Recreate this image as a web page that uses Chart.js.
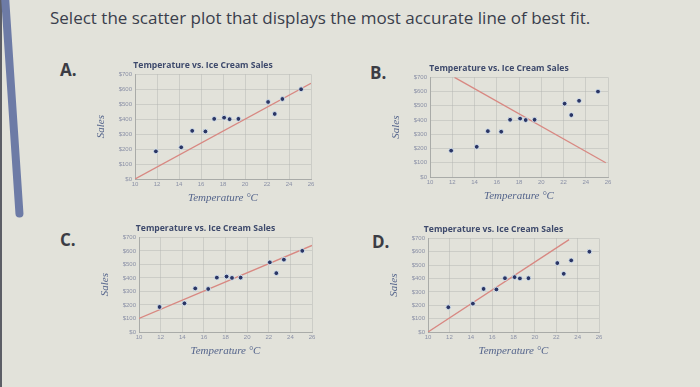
<!DOCTYPE html>
<html>
<head>
<meta charset="utf-8">
<script src="https://cdn.jsdelivr.net/npm/chart.js@4.4.1/dist/chart.umd.min.js"></script>
<style>
  html, body { margin: 0; padding: 0; }
  body {
    width: 700px; height: 387px; overflow: hidden; position: relative;
    background: #e2e2da;
    font-family: "Open Sans", sans-serif;
  }
  .edge { position: absolute; left: 0; top: 0; width: 2px; height: 387px; background: #5c5e66; }
  .bar {
    position: absolute; left: 1px; top: -4px; width: 8px; height: 222px;
    background: #6d7ba6; border-radius: 4px;
    transform: rotate(-3.8deg); transform-origin: top center;
  }
  .question {
    position: absolute; left: 50px; top: 6px; margin: 0;
    font-size: 17px; color: #3a3e4c; white-space: nowrap;
  }
  .letter {
    position: absolute; font-weight: bold; font-size: 17px; color: #3b3c44;
  }
  canvas { position: absolute; }
</style>
</head>
<body>
<div class="edge"></div>
<div class="bar"></div>
<p class="question" id="q">Select the scatter plot that displays the most accurate line of best fit.</p>
<div class="letter" style="left:60px;top:58px">A.</div>
<div class="letter" style="left:370px;top:61px">B.</div>
<div class="letter" style="left:60px;top:228px">C.</div>
<div class="letter" style="left:372px;top:230px">D.</div>
<canvas id="chartA"></canvas>
<canvas id="chartB"></canvas>
<canvas id="chartC"></canvas>
<canvas id="chartD"></canvas>
<script>
// same observations in every plot
const temps = [11.9, 14.2, 15.2, 16.4, 17.2, 18.1, 18.6, 19.4, 22.1, 22.7, 23.4, 25.1];
const sales = [185, 212, 322, 318, 402, 410, 400, 402, 515, 435, 535, 600];

// fitted line endpoints per option
const lineA_x = [10, 26],   lineA_y = [0, 640];
const lineB_x = [12.2, 25.8], lineB_y = [700, 100];
const lineC_x = [10, 26],   lineC_y = [100, 640];
const lineD_x = [10, 23.2], lineD_y = [0, 690];

const xTicks = [10, 12, 14, 16, 18, 20, 22, 24, 26];
const yTicks = ['$0', '$100', '$200', '$300', '$400', '$500', '$600', '$700'];

const chartTitle = 'Temperature vs. Ice Cream Sales';

const Y_AXIS_W = 40;
const X_AXIS_H = 26;
const TITLE_H = 9 * 1.2 + 2 + 4;
const PAD_R = 10;

function makeChart(id, lineX, lineY, plot) {
    const canvas = document.getElementById(id);
    const left = plot.left - Y_AXIS_W;
    const top = plot.top - TITLE_H;
    const width = plot.right - left + PAD_R;
    const height = plot.bottom + X_AXIS_H - top;
    canvas.style.left = left + 'px';
    canvas.style.top = top + 'px';
    canvas.width = width;
    canvas.height = height;

    return new Chart(canvas, {
        type: 'scatter',
        data: {
            datasets: [
                {
                    data: temps.map((t, i) => ({x: t, y: sales[i]})),
                    backgroundColor: '#2b3665',
                    borderColor: 'rgba(215,228,240,0.9)',
                    borderWidth: 1,
                    pointRadius: 2.4,
                },
                {
                    type: 'line',
                    data: lineX.map((x, i) => ({x: x, y: lineY[i]})),
                    borderColor: '#d88882',
                    borderWidth: 1.3,
                    pointRadius: 0,
                    fill: false,
                },
            ],
        },
        options: {
            responsive: false,
            animation: false,
            layout: {padding: {right: PAD_R, top: 0, left: 0, bottom: 0}},
            plugins: {
                legend: {display: false},
                tooltip: {enabled: false},
                title: {
                    display: true,
                    text: chartTitle,
                    color: '#3e4a6c',
                    font: {family: 'Open Sans', size: 8.6, weight: 'bold', lineHeight: 1.2},
                    padding: {top: 2, bottom: 4},
                },
            },
            scales: {
                x: {
                    type: 'linear',
                    min: 10, max: 26,
                    afterBuildTicks: s => { s.ticks = xTicks.map(v => ({value: v})); },
                    afterFit: s => { s.height = X_AXIS_H; },
                    ticks: {color: '#8a90a6', font: {size: 6}, padding: 2},
                    grid: {color: 'rgba(175,178,175,0.55)', lineWidth: 0.8, tickLength: 0},
                    border: {color: 'rgba(160,162,160,0.8)'},
                    title: {
                        display: true,
                        text: 'Temperature °C',
                        color: '#55658c',
                        font: {family: 'Liberation Serif', size: 11, style: 'italic'},
                        padding: 0,
                    },
                },
                y: {
                    min: 0, max: 700,
                    ticks: {
                        stepSize: 100,
                        color: '#8a90a6',
                        font: {size: 6},
                        padding: 3,
                        callback: v => yTicks[Math.round(v / 100)],
                    },
                    afterFit: s => { s.width = Y_AXIS_W; },
                    grid: {color: 'rgba(175,178,175,0.55)', lineWidth: 0.8, tickLength: 0},
                    border: {color: 'rgba(160,162,160,0.8)'},
                    title: {
                        display: true,
                        text: 'Sales',
                        color: '#55658c',
                        font: {family: 'Liberation Serif', size: 11, style: 'italic'},
                        padding: {top: 0, bottom: 2},
                    },
                },
            },
        },
    });
}

makeChart('chartA', lineA_x, lineA_y, {left: 135, right: 311, top: 75, bottom: 180});
makeChart('chartB', lineB_x, lineB_y, {left: 430, right: 608, top: 78, bottom: 178});
makeChart('chartC', lineC_x, lineC_y, {left: 139, right: 312, top: 238, bottom: 333});
makeChart('chartD', lineD_x, lineD_y, {left: 428, right: 599, top: 239, bottom: 333});
</script>
</body>
</html>
